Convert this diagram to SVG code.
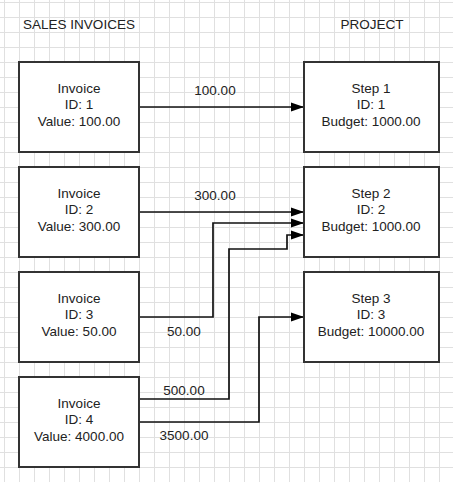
<svg xmlns="http://www.w3.org/2000/svg" width="453" height="482" viewBox="0 0 453 482">
<defs>
<pattern id="grid" x="4" y="2" width="15" height="15" patternUnits="userSpaceOnUse">
<path d="M0.5 0V15M0 0.5H15" fill="none" stroke="#e0e0e0" stroke-width="1"/>
</pattern>
<marker id="arr" markerWidth="13" markerHeight="10" refX="13" refY="5" orient="auto" markerUnits="userSpaceOnUse">
<path d="M0 0.5L13 5L0 9.5Z" fill="#000"/>
</marker>
<style>
.box{fill:#fff;stroke:#333;stroke-width:2}
.t{font-family:"Liberation Sans",Arial,sans-serif;font-size:13.5px;fill:#222;text-anchor:middle}
.c{fill:none;stroke:#111;stroke-width:1.7;marker-end:url(#arr)}
</style>
</defs>
<rect width="453" height="482" fill="#fff"/>
<rect width="453" height="482" fill="url(#grid)"/>
<text class="t" x="79" y="29">SALES INVOICES</text>
<text class="t" x="372" y="29">PROJECT</text>
<g id="connectors">
<path class="c" d="M139 107H304"/>
<path class="c" d="M139 212H304"/>
<path class="c" d="M139 317H213V223H304"/>
<path class="c" d="M139 399H229V249H287V235H304"/>
<path class="c" d="M139 422H259V317H304"/>
<text class="t" x="215" y="95">100.00</text>
<text class="t" x="215" y="200">300.00</text>
<text class="t" x="184" y="336">50.00</text>
<text class="t" x="184" y="395">500.00</text>
<text class="t" x="184" y="440">3500.00</text>
</g>
<g id="inv1"><rect class="box" x="19" y="62" width="120" height="90"/>
<text class="t" x="79" y="93">Invoice</text><text class="t" x="79" y="109">ID: 1</text><text class="t" x="79" y="126">Value: 100.00</text></g>
<g id="inv2"><rect class="box" x="19" y="167" width="120" height="90"/>
<text class="t" x="79" y="198">Invoice</text><text class="t" x="79" y="214">ID: 2</text><text class="t" x="79" y="231">Value: 300.00</text></g>
<g id="inv3"><rect class="box" x="19" y="272" width="120" height="90"/>
<text class="t" x="79" y="303">Invoice</text><text class="t" x="79" y="319">ID: 3</text><text class="t" x="79" y="336">Value: 50.00</text></g>
<g id="inv4"><rect class="box" x="19" y="377" width="120" height="90"/>
<text class="t" x="79" y="408">Invoice</text><text class="t" x="79" y="424">ID: 4</text><text class="t" x="79" y="441">Value: 4000.00</text></g>
<g id="step1"><rect class="box" x="304" y="62" width="135" height="90"/>
<text class="t" x="371" y="93">Step 1</text><text class="t" x="371" y="109">ID: 1</text><text class="t" x="371" y="126">Budget: 1000.00</text></g>
<g id="step2"><rect class="box" x="304" y="167" width="135" height="90"/>
<text class="t" x="371" y="198">Step 2</text><text class="t" x="371" y="214">ID: 2</text><text class="t" x="371" y="231">Budget: 1000.00</text></g>
<g id="step3"><rect class="box" x="304" y="272" width="135" height="90"/>
<text class="t" x="371" y="303">Step 3</text><text class="t" x="371" y="319">ID: 3</text><text class="t" x="371" y="336">Budget: 10000.00</text></g>
</svg>
